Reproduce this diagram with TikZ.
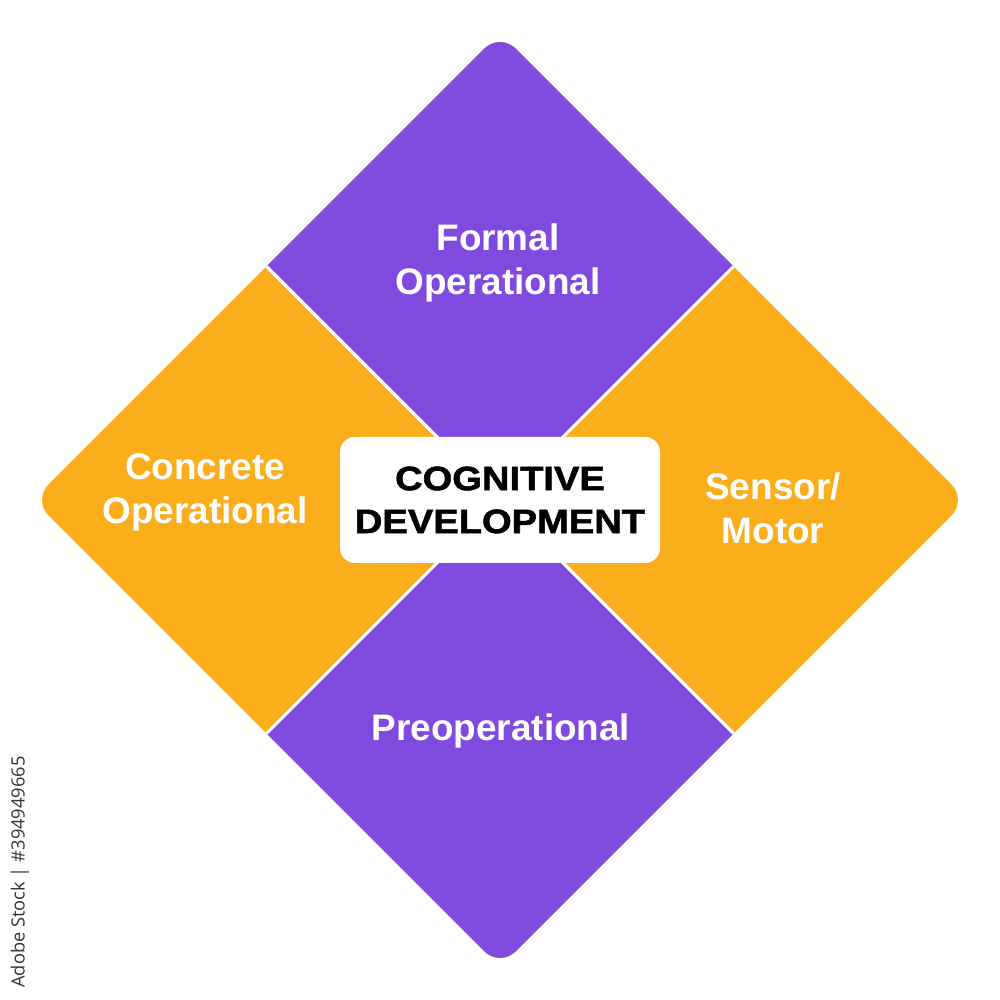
\documentclass[tikz,border=0pt]{standalone}
\usepackage{fontspec}
\setmainfont{Liberation Sans}
\newfontfamily\titlefont[FakeStretch=1.13,FakeBold=1.6]{Liberation Sans}
\newfontfamily\stockfont{Open Sans}
\usetikzlibrary{positioning}
\definecolor{stagepurple}{RGB}{127,74,222}
\definecolor{stageorange}{RGB}{250,174,28}
\tikzset{
  stagelabel/.style={text=white, align=center, font=\fontsize{10.5}{12.5}\selectfont\bfseries},
  titlebox/.style={fill=white, rounded corners=0.15cm, minimum width=3.2cm, minimum height=1.26cm, align=center, font=\titlefont\fontsize{9.6}{12.2}\selectfont\bfseries},
  splitline/.style={white, line width=0.9pt}
}

\begin{document}
\begin{tikzpicture}
    \useasboundingbox (0,0) rectangle (10,10);

    \coordinate (top) at (5,9.67);
    \coordinate (right) at (9.67,5);
    \coordinate (bottom) at (5,0.33);
    \coordinate (left) at (0.33,5);
    \coordinate (tl) at (2.665,7.335);
    \coordinate (tr) at (7.335,7.335);
    \coordinate (bl) at (2.665,2.665);
    \coordinate (br) at (7.335,2.665);

    % orange diamond, purple quarters on top
    \fill[stageorange, rounded corners=0.22cm] (top) -- (right) -- (bottom) -- (left) -- cycle;
    \begin{scope}
        \clip (5,5) -- (2.5,7.5) -- (5,10) -- (7.5,7.5) -- cycle
              (5,5) -- (2.5,2.5) -- (5,0) -- (7.5,2.5) -- cycle;
        \fill[stagepurple, rounded corners=0.22cm] (top) -- (right) -- (bottom) -- (left) -- cycle;
    \end{scope}
    \draw[splitline] (tl) -- (br);
    \draw[splitline] (tr) -- (bl);

    \node(title)[titlebox] at (5,5) {COGNITIVE\\DEVELOPMENT};
    \node(formal)[stagelabel] at (4.98,7.37) {Formal\\Operational};
    \node(concrete)[stagelabel] at (2.05,5.08) {Concrete\\Operational};
    \node(sensor)[stagelabel] at (7.73,4.92) {Sensor/\\Motor};
    \node(preop)[stagelabel] at (5.01,2.69) {Preoperational};

    \node(stockid)[rotate=90, text=black!80, font=\stockfont\fontsize{5.2}{6}\selectfont] at (0.2,1.28) {Adobe Stock | \#394949665};
\end{tikzpicture}
\end{document}
